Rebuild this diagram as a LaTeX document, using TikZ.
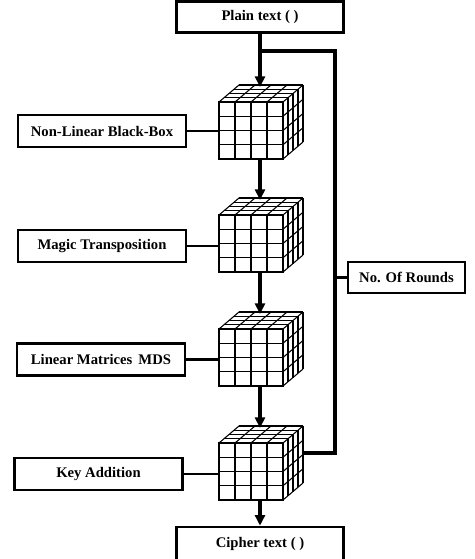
\documentclass[tikz,border=0pt]{standalone}
\usepackage{fontspec}
\setmainfont{Liberation Serif}
\usetikzlibrary{positioning, arrows.meta, calc}

\tikzset{
  cubegrid/.pic={
    % front grid
    \foreach \i in {1,2,3} {
      \draw (16*\i,0) -- (16*\i,57);
      \draw (0,14.25*\i) -- (64,14.25*\i);
    }
    % top face
    \foreach \i in {0,...,4} \draw (16*\i,0) -- ++(20,-17);
    \foreach \k in {1,...,4} \draw (5*\k,-4.25*\k) -- ++(64,0);
    % right face
    \foreach \j in {1,...,4} \draw (64,14.25*\j) -- ++(20,-17);
    \foreach \k in {1,...,4} \draw (64+5*\k,-4.25*\k) -- ++(0,57);
  }
}

\begin{document}
\begin{tikzpicture}[x=0.75pt, y=-0.75pt,
  stage/.style={draw, line width=2pt, minimum width=126pt, minimum height=24pt,
                inner sep=0pt, fill=white, font=\bfseries\fontsize{11}{13}\selectfont},
  io/.style={stage, minimum width=125.25pt, minimum height=23.5pt},
  rnd/.style={stage, minimum width=87.75pt, minimum height=23.25pt},
  cube/.style={draw, line width=0.8pt, fill=white, minimum width=48pt,
               minimum height=42.75pt, inner sep=0pt, outer sep=0pt},
  arr/.style={-{Triangle[length=8pt,width=7.5pt]}, line width=2.4pt},
  loopline/.style={line width=2.4pt},
  link/.style={line width=1.6pt},
]
\useasboundingbox (0,0) rectangle (474,559);

% Input
\node[io] (plain) at (260,17) {Plain text ( )};

% Cubes
\node[cube] (c1) at (251,130.5) {};
\node[cube] (c2) at (251,243.5) {};
\node[cube] (c3) at (251,357.5) {};
\node[cube] (c4) at (251,471.5) {};
\foreach \c in {c1,c2,c3,c4}
  \pic[line width=0.8pt] at (\c.north west) {cubegrid};

% Round stages
\node[stage] (nlbb)  at (102,131)   {Non-Linear Black-Box};
\node[stage] (magic) at (102,246)   {Magic Transposition};
\node[stage] (mds)   at (101,359.5) {Linear Matrices\, MDS};
\node[stage] (key)   at (98.5,474)  {Key Addition};

% Output
\node[io, minimum height=24.75pt] (cipher) at (260,543.5) {Cipher text ( )};

% Rounds
\node[rnd] (rounds) at (406.5,277.5) {No. Of Rounds};

% Arrows
\coordinate (t1) at ($(c1.north)+(9,-15)$);
\draw[arr] (plain) -- (plain |- t1);
\draw[arr] ($(c1.south)+(9,0)$) -- ($(c2.north)+(9,-15)$);
\draw[arr] ($(c2.south)+(9,0)$) -- ($(c3.north)+(9,-15)$);
\draw[arr] ($(c3.south)+(9,0)$) -- ($(c4.north)+(9,-15)$);
\draw[arr] ($(c4.south)+(9,0)$) -- (cipher.north -| {$(c4.south)+(9,0)$});

% Stage links
\draw[link] (nlbb.east)  -- (nlbb.east -| c1.west);
\draw[link] (magic.east) -- (magic.east -| c2.west);
\draw[link] (mds.east)   -- (mds.east -| c3.west);
\draw[link] (key.east)   -- (key.east -| c4.west);

% Rounds loop
\coordinate (br) at (260,51);
\coordinate (rr) at (335,51);
\coordinate (k4) at ($(c4.east)+(20,-18.5)$);
\draw[loopline] (br) -- (rr) -- (rr |- k4) -- (k4);
\draw[link, line width=2pt] (rounds.west) -- (rounds.west -| rr);

\end{tikzpicture}
\end{document}
